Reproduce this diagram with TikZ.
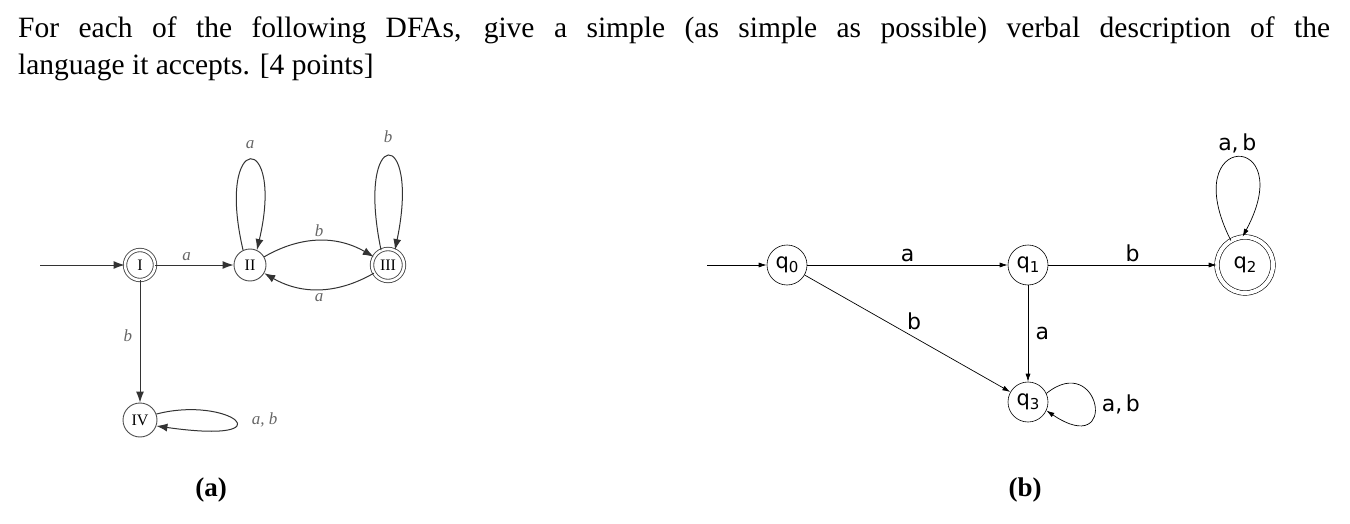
\documentclass[tikz,border=0pt]{standalone}
\usepackage{fontspec}
\setmainfont{Liberation Serif}
\newfontfamily\bfont{DejaVu Sans}
\usetikzlibrary{arrows.meta}
\newcommand{\qs}[1]{q\raisebox{-4pt}{\fontsize{15}{15}\selectfont #1}}
\begin{document}
\begin{tikzpicture}[x=1pt,y=-1pt,
 sa/.style={circle,draw=black!70,line width=0.9pt,minimum size=32pt,inner sep=0pt,font=\fontsize{16}{16}\selectfont},
 dbl/.style={double,double distance=2.5pt},
 la/.style={font=\fontsize{17}{17}\selectfont\itshape,text=black!60},
 ea/.style={draw=black!80,line width=1pt,-{Latex[length=11pt,width=8pt]}},
 sb/.style={circle,draw,line width=0.6pt,minimum size=40pt,inner sep=0pt,font=\bfont\fontsize{21}{21}\selectfont},
 lb/.style={font=\bfont\fontsize{22}{22}\selectfont},
 eb/.style={draw,line width=0.7pt,-{Latex[length=8pt,width=5pt]}}]
\useasboundingbox (0,0) rectangle (1350,524);
\node[anchor=north west,text width=1312pt,align=justify,font=\fontsize{29.5}{37}\selectfont,inner sep=0pt] (hdr) at (18,17)
 {For each of the following DFAs, give a simple (as simple as possible) verbal description of the\linebreak language it accepts. [4 points]};
% (a)
\node[sa,dbl,minimum size=30pt] (I) at (140,265) {I};
\node[sa] (II) at (250,265) {II};
\node[sa,dbl,minimum size=32pt] (III) at (388,265) {III};
\node[sa,minimum size=34pt] (IV) at (140,420) {IV};
\coordinate (sa0) at (40,265);
\draw[ea] (sa0) -- (I);
\draw[ea] (I) -- node[la,above,pos=0.4]{a} (II);
\draw[ea] (I) -- node[la,left,pos=0.45,xshift=-4pt]{b} (IV);
\draw[ea] (II) to[out=30,in=150] node[la,above]{b} (III);
\draw[ea] (III) to[out=210,in=-30] node[la,below]{a} (II);
\draw[ea] (II.115) .. controls (215,130) and (285,130) .. node[la,above,pos=0.5,yshift=8pt]{a} (II.65);
\draw[ea] (III.115) .. controls (355,125) and (421,125) .. node[la,above,pos=0.5,yshift=10pt]{b} (III.65);
\draw[ea] (IV.20) .. controls (230,395) and (290,445) .. node[la,right,pos=0.5,xshift=14pt]{a, b} (IV.-20);
\node[font=\fontsize{27}{27}\selectfont\bfseries] (la) at (211,490) {(a)};
% (b)
\node[sb] (q0) at (787,265) {\qs{0}};
\node[sb] (q1) at (1028,265) {\qs{1}};
\node[sb,double,double distance=4pt,minimum size=56pt] (q2) at (1245,265) {\qs{2}};
\node[sb] (q3) at (1028,402) {\qs{3}};
\coordinate (sb0) at (707,265);
\draw[eb] (sb0) -- (q0);
\draw[eb] (q0) -- node[lb,above]{a} (q1);
\draw[eb] (q1) -- node[lb,above]{b} (q2);
\draw[eb] (q1) -- node[lb,right,xshift=4pt]{a} (q3);
\draw[eb] (q0) -- node[lb,pos=0.5,above right,xshift=-4pt]{b} (q3);
\draw[eb] (q2.120) .. controls (1175,130) and (1300,130) .. node[lb,above]{a,\,b} (q2.95);
\draw[eb] (q3.25) .. controls (1100,350) and (1120,460) .. node[lb,right,pos=0.5,xshift=4pt]{a,\,b} (q3.-25);
\node[font=\fontsize{27}{27}\selectfont\bfseries] (lbb) at (1025,490) {(b)};
\end{tikzpicture}
\end{document}
